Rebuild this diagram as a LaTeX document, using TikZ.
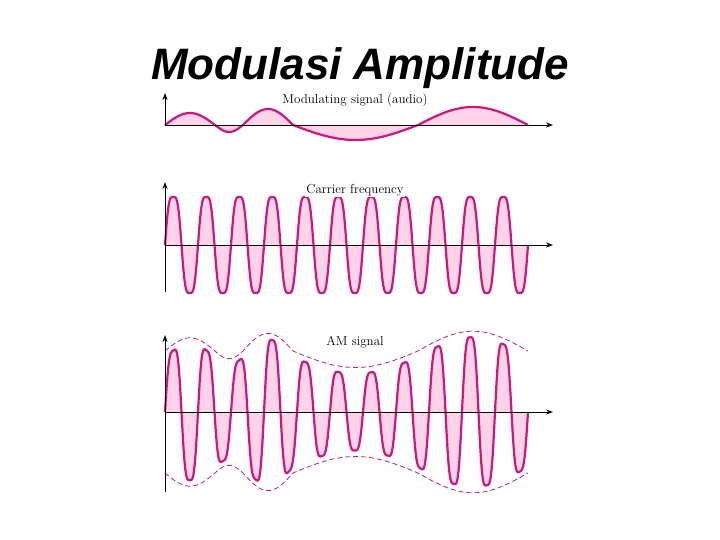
\documentclass[tikz,border=0pt]{standalone}
\usepackage{fontspec}
\setmainfont{Latin Modern Roman}
\newfontfamily\arialfont{Liberation Sans}
\usetikzlibrary{arrows.meta}
\definecolor{sig}{RGB}{210,20,125}
\definecolor{sigfill}{RGB}{255,212,232}
\tikzset{
  ax/.style={line width=0.9pt,-{Stealth[length=7pt,width=5pt]}},
  wave/.style={draw=sig,line width=2.2pt,line join=round},
  wfill/.style={fill=sigfill},
  env/.style={draw=sig,line width=0.8pt,dash pattern=on 5pt off 3pt},
  lbl/.style={font=\fontsize{13}{15}\selectfont},
  declare function={
    md(\t)=(\t<215)*12*sin(3.6*(\t-165))
      +(\t>=215)*(\t<243)*(-7)*sin(6.428571*(\t-215))
      +(\t>=243)*(\t<293)*16*sin(3.6*(\t-243))
      +(\t>=293)*(\t<418)*(-15)*sin(1.44*(\t-293))
      +(\t>=418)*18*sin(1.636364*(\t-418));
    cs(\t)=sin(10.909091*(\t-165));
    cr(\t)=1.5*cs(\t)-0.5*cs(\t)*cs(\t)*cs(\t);
    ev(\t)=55+1.1*md(\t);
  }
}
\begin{document}
\begin{tikzpicture}[x=1pt,y=-1pt]
\useasboundingbox[fill=white] (0,0) rectangle (720,540);
\node (title) at (360,68) {\arialfont\bfseries\itshape\fontsize{44}{46}\selectfont Modulasi Amplitude};
% top: modulating signal
\coordinate (o1) at (165,125);
\coordinate (v1) at (165,93);
\coordinate (h1) at (553,125);
\fill[wfill] plot[domain=165:528,samples=200] (\x,{125-md(\x)}) -- cycle;
\draw[wave] plot[domain=165:528,samples=200] (\x,{125-md(\x)});
\draw[ax] (o1) -- (v1);
\draw[ax] (o1) -- (h1);
\node[lbl] (l1) at (355,100) {Modulating signal (audio)};
% carrier
\coordinate (o2) at (165,245);
\coordinate (b2) at (165,292);
\coordinate (v2) at (165,182);
\coordinate (h2) at (553,245);
\fill[wfill] plot[domain=165:528,samples=450] (\x,{245-48*cr(\x)}) -- cycle;
\draw[wave] plot[domain=165:528,samples=450] (\x,{245-48*cr(\x)});
\draw[ax] (b2) -- (v2);
\draw[ax] (o2) -- (h2);
\node[lbl,fill=white,inner sep=1pt] (l2) at (355,190) {Carrier frequency};
% AM
\coordinate (o3) at (165,412);
\coordinate (b3) at (165,492);
\coordinate (v3) at (165,335);
\coordinate (h3) at (553,412);
\draw[env] plot[domain=165:528,samples=200] (\x,{412-ev(\x)-6});
\draw[env] plot[domain=165:528,samples=200] (\x,{412+ev(\x)+6});
\fill[wfill] plot[domain=165:528,samples=450] (\x,{412-ev(\x)*cr(\x)}) -- cycle;
\draw[wave] plot[domain=165:528,samples=450] (\x,{412-ev(\x)*cr(\x)});
\draw[ax] (b3) -- (v3);
\draw[ax] (o3) -- (h3);
\node[lbl,fill=white,inner sep=1pt] (l3) at (355,342) {AM signal};
\end{tikzpicture}
\end{document}
